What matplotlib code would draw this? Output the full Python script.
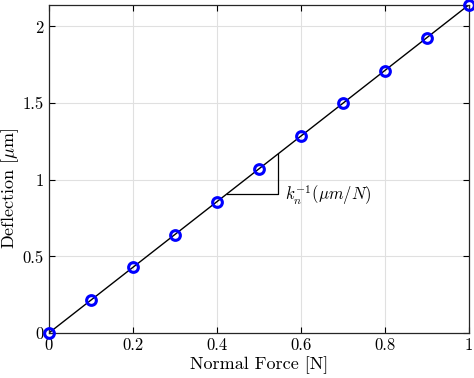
import numpy as np
import matplotlib
matplotlib.use("Agg")
import matplotlib.pyplot as plt
from matplotlib.ticker import FuncFormatter

# data
force = [0.0, 0.1, 0.2, 0.3, 0.4, 0.5, 0.6, 0.7, 0.8, 0.9, 1.0]
deflection = [0.0, 0.214, 0.428, 0.642, 0.856, 1.07, 1.284, 1.498, 1.712, 1.926, 2.14]
tri_x = [0.424, 0.545, 0.545]
tri_y = [0.907, 0.907, 1.167]

plt.rcParams['font.family'] = 'serif'
plt.rcParams['font.serif'] = ['cmr10']
plt.rcParams['mathtext.fontset'] = 'cm'
plt.rcParams['axes.formatter.use_mathtext'] = True

fig = plt.figure(figsize=(4.74, 3.78), dpi=100)
ax = fig.add_axes([0.103, 0.119, 0.886, 0.868])

ax.plot(force, deflection, color='k', lw=1.0, zorder=2)
ax.plot(force, deflection, 'o', mfc='none', mec='#0000ff', mew=2.2, ms=7,
        ls='none', zorder=3, clip_on=False)
ax.plot(tri_x, tri_y, color='k', lw=0.9, zorder=2)
ax.text(0.562, 0.90, r'$k_n^{-1}(\mu m/N)$', fontsize=12, va='center', ha='left')

ax.set_xlim(0, 1)
ax.set_ylim(0, 2.14)
ax.set_xticks([0, 0.2, 0.4, 0.6, 0.8, 1])
ax.set_yticks([0, 0.5, 1, 1.5, 2])
fmt = FuncFormatter(lambda v, p: f"{v:g}")
ax.xaxis.set_major_formatter(fmt)
ax.yaxis.set_major_formatter(fmt)
ax.tick_params(direction='in', top=True, right=True, labelsize=12, length=4, width=0.8)
ax.grid(True, color='#e0e0e0', lw=0.8)
ax.set_axisbelow(True)
for s in ax.spines.values():
    s.set_linewidth(0.9)
    s.set_color('#262626')

ax.set_xlabel(r'Normal Force [N]', fontsize=13, labelpad=2)
ax.set_ylabel(r'Deflection [$\mu$m]', fontsize=13, va='center')
ax.yaxis.set_label_coords(-0.092, 0.44)

fig.savefig('out.png', dpi=100)
